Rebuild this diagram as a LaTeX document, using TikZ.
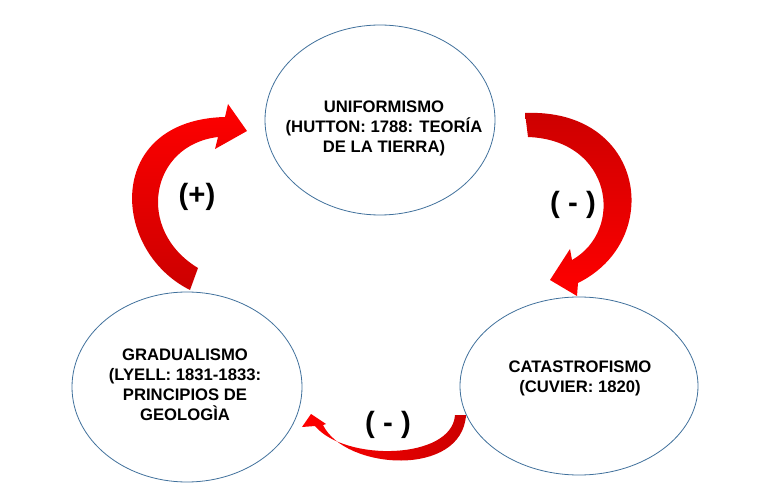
\documentclass[tikz,border=0pt]{standalone}
\usepackage{fontspec}
\setmainfont{Liberation Sans}
\tikzset{
 ell/.style={ellipse,draw={rgb,255:red,65;green,113;blue,156},line width=0.6pt,fill=white},
 txt/.style={font=\fontsize{12.5}{15}\selectfont\bfseries,align=center},
 lbl/.style={font=\fontsize{22}{24}\selectfont\bfseries},
 arr/.style={draw=none}
}
\usetikzlibrary{shapes.geometric}
\begin{document}
\begin{tikzpicture}[x=0.75pt,y=-0.75pt]
\useasboundingbox (0,0) rectangle (764,502);
\node[ell,minimum width=230*0.75pt,minimum height=190*0.75pt,inner sep=0pt] (u) at (380,120) {};
\node[ell,minimum width=230*0.75pt,minimum height=190*0.75pt,inner sep=0pt] (g) at (187,387) {};
\node[ell,minimum width=238*0.75pt,minimum height=178*0.75pt,inner sep=0pt] (c) at (579,386) {};
\node[txt] (ut) at (384,128) {UNIFORMISMO\\(HUTTON: 1788: TEORÍA\\DE LA TIERRA)};
\node[txt] (gt) at (185,385) {GRADUALISMO\\(LYELL: 1831-1833:\\PRINCIPIOS DE\\GEOLOGÌA};
\node[txt] (ct) at (580,378) {CATASTROFISMO\\(CUVIER: 1820)};
% left arrow
\shade[arr,top color=red,bottom color=red!80!black]
 (190,290) .. controls (110,250) and (105,120) .. (225,117) -- (228,104) -- (247,131) -- (215,149) -- (218,137)
 .. controls (150,145) and (135,230) .. (198,268) -- cycle;
% right arrow
\shade[arr,top color=red!80!black,bottom color=red]
 (525,113) .. controls (645,108) and (665,240) .. (578,283) -- (577,296) -- (550,280) -- (570,249) -- (572,260)
 .. controls (625,230) and (612,140) .. (528,137) -- cycle;
% bottom arrow
\shade[arr,left color=red,right color=red!80!black]
 (466,415) .. controls (462,478) and (345,470) .. (323,425) -- (326,424) -- (311,414) -- (302,427) -- (315,426)
 .. controls (345,462) and (452,460) .. (455,415) -- cycle;
\node[lbl] (p) at (197,197) {(+)};
\node[lbl] (m1) at (573,205) {( - )};
\node[lbl] (m2) at (388,425) {( - )};
\end{tikzpicture}
\end{document}
